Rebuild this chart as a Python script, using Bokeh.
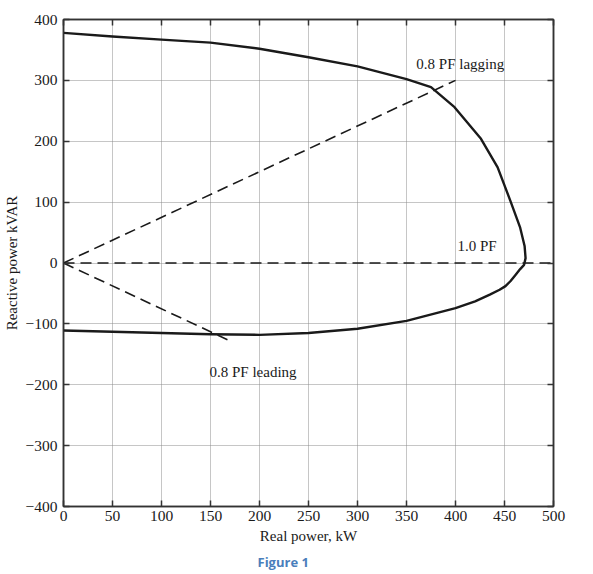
from bokeh.plotting import figure
from bokeh.models import Range1d, FixedTicker, LinearAxis, Label, Title
from bokeh.embed import file_html
from bokeh.resources import INLINE

# Capability curve (real power kW, reactive power kVAR), traced top -> nose -> bottom
curve_p = [0, 50, 100, 150, 200, 250, 300, 350, 375, 399, 426, 443, 456, 466, 470.5, 471.5,
           470, 466, 461, 456, 451, 445, 435, 420, 400, 350, 300, 250, 200, 150, 100, 50, 0]
curve_q = [378, 372, 367, 362, 352, 338, 323, 302, 289, 256, 204, 157, 102, 58, 28, 8,
           -3, -10, -20, -30, -38, -44, -52, -63, -74, -95, -108, -115, -118, -117, -115, -113, -111]

# Power-factor lines
lag_p = [0, 400]
lag_q = [0, 300]
lead_p = [0, 170]
lead_q = [0, -128]
unity_p = [0, 500]
unity_q = [0, 0]

x_ticks = [0, 50, 100, 150, 200, 250, 300, 350, 400, 450, 500]
y_ticks = [-400, -300, -200, -100, 0, 100, 200, 300, 400]
y_tick_labels = ["\u2212400", "\u2212300", "\u2212200", "\u2212100", "0", "100", "200", "300", "400"]

SERIF = "Liberation Serif"
INK = "#1a1a1a"
FRAME = "#333333"

p = figure(width=593, height=574, x_range=Range1d(0, 500), y_range=Range1d(-400, 400),
           output_backend="svg", toolbar_location=None,
           min_border_left=62, min_border_right=40, min_border_top=19, min_border_bottom=68)
p.background_fill_color = "white"
p.border_fill_color = "white"
p.outline_line_color = FRAME
p.outline_line_width = 1.5

for ax in (p.xaxis[0], p.yaxis[0]):
    ax.major_tick_in = 6
    ax.major_tick_out = 0
    ax.minor_tick_line_color = None
    ax.axis_line_color = FRAME
    ax.axis_line_width = 1.5
    ax.major_tick_line_color = FRAME
    ax.major_tick_line_width = 1.5
    ax.major_label_text_font = SERIF
    ax.major_label_text_font_size = "15.5px"
    ax.major_label_text_color = INK
    ax.axis_label_text_font = SERIF
    ax.axis_label_text_font_size = "15px"
    ax.axis_label_text_font_style = "normal"
    ax.axis_label_text_color = INK

p.xaxis.ticker = FixedTicker(ticks=x_ticks)
p.yaxis.ticker = FixedTicker(ticks=y_ticks)
p.yaxis.major_label_overrides = {t: s for t, s in zip(y_ticks, y_tick_labels)}
p.xaxis.axis_label = "Real power, kW"
p.yaxis.axis_label = "Reactive power kVAR"
p.xaxis.major_label_standoff = 4
p.yaxis.major_label_standoff = 6
p.xaxis.axis_label_standoff = 4
p.yaxis.axis_label_standoff = 3

# box ticks on top and right (no labels)
top_ax = LinearAxis(ticker=FixedTicker(ticks=x_ticks), major_tick_in=6, major_tick_out=0,
                    minor_tick_line_color=None,
                    major_label_overrides={t: "" for t in x_ticks},
                    major_label_standoff=0, axis_line_color=FRAME, axis_line_width=1.5,
                    major_tick_line_color=FRAME, major_tick_line_width=1.5)
right_ax = LinearAxis(ticker=FixedTicker(ticks=y_ticks), major_tick_in=6, major_tick_out=0,
                      minor_tick_line_color=None,
                      major_label_overrides={t: "" for t in y_ticks},
                      major_label_standoff=0, axis_line_color=FRAME, axis_line_width=1.5,
                      major_tick_line_color=FRAME, major_tick_line_width=1.5)
p.add_layout(top_ax, "above")
p.add_layout(right_ax, "right")

p.xgrid.ticker = FixedTicker(ticks=x_ticks)
p.ygrid.ticker = FixedTicker(ticks=y_ticks)
for g in (p.xgrid[0], p.ygrid[0]):
    g.grid_line_color = "#8c8c8c"
    g.grid_line_dash = "1 1"
    g.grid_line_width = 1

p.line(unity_p, unity_q, line_color=INK, line_width=1.6, line_dash="11 6")
p.line(lag_p, lag_q, line_color=INK, line_width=1.6, line_dash="11 6")
p.line(lead_p, lead_q, line_color=INK, line_width=1.6, line_dash="11 6")
p.line(curve_p, curve_q, line_color=INK, line_width=2.4, line_join="round")

for txt, x, y in [("0.8 PF lagging", 360, 327), ("1.0 PF", 402, 28), ("0.8 PF leading", 149, -179)]:
    p.add_layout(Label(x=x, y=y, text=txt, text_font=SERIF, text_font_size="15px",
                       text_color=INK, text_baseline="middle", text_align="left"))

caption = Title(text="Figure 1", align="left", offset=194, standoff=8, vertical_align="bottom",
                text_font="Open Sans", text_font_size="13px", text_font_style="bold",
                text_color="#4a7ebb")
p.add_layout(caption, "below")

open("out.html", "w").write(file_html(p, INLINE))
